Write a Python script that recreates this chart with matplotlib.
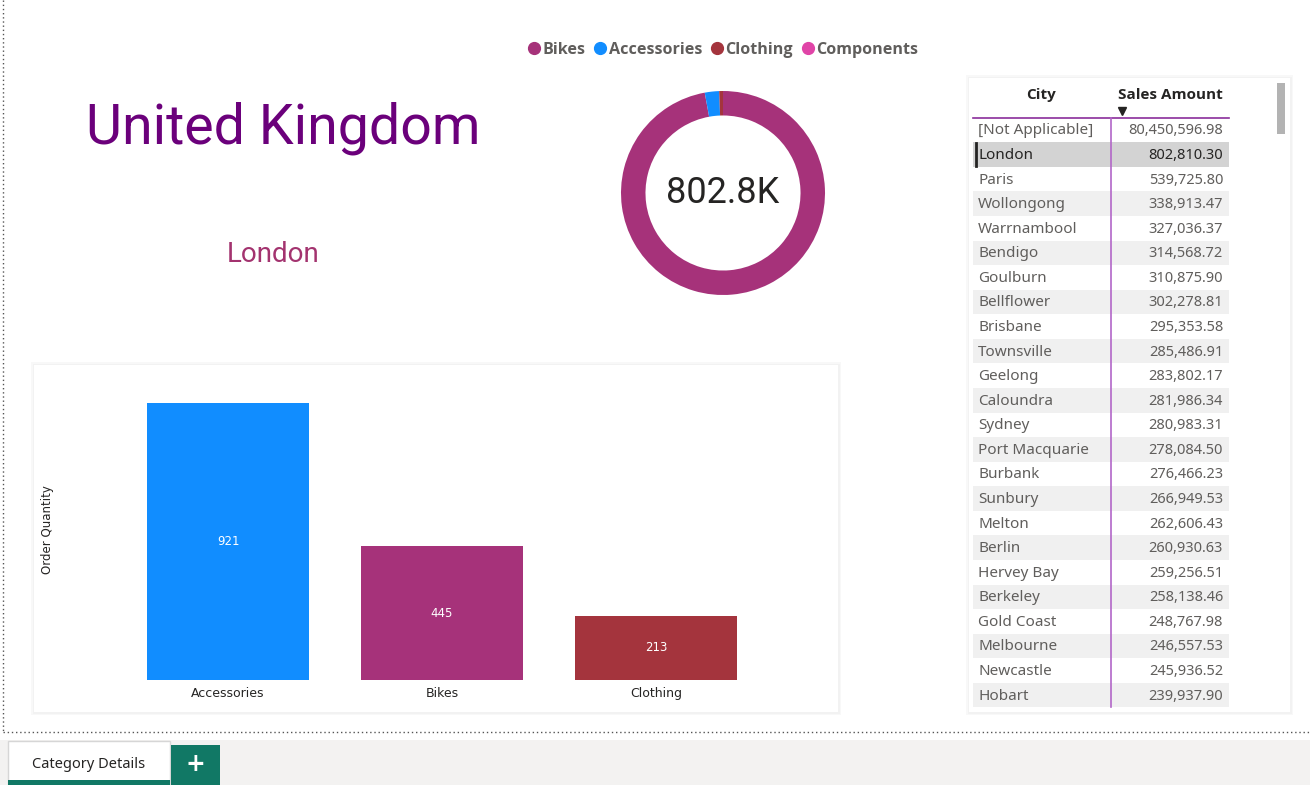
import matplotlib.pyplot as plt
from matplotlib.patches import Rectangle
from matplotlib.lines import Line2D

# data
country = 'United Kingdom'
city = 'London'
total_label = '802.8K'

legend_cats = ['Bikes', 'Accessories', 'Clothing', 'Components']
legend_colors = ['#A6327A', '#118DFF', '#A4343D', '#E044A7']
col = dict(zip(legend_cats, legend_colors))

donut_cats = ['Bikes', 'Accessories', 'Clothing']
donut_sales = [779800, 18200, 4810]

bar_cats = ['Accessories', 'Bikes', 'Clothing']
order_qty = [921, 445, 213]

cities = ['[Not Applicable]', 'London', 'Paris', 'Wollongong', 'Warrnambool',
          'Bendigo', 'Goulburn', 'Bellflower', 'Brisbane', 'Townsville',
          'Geelong', 'Caloundra', 'Sydney', 'Port Macquarie', 'Burbank',
          'Sunbury', 'Melton', 'Berlin', 'Hervey Bay', 'Berkeley',
          'Gold Coast', 'Melbourne', 'Newcastle', 'Hobart']
sales_amount = [80450596.98, 802810.30, 539725.80, 338913.47, 327036.37,
                314568.72, 310875.90, 302278.81, 295353.58, 285486.91,
                283802.17, 281986.34, 280983.31, 278084.50, 276466.23,
                266949.53, 262606.43, 260930.63, 259256.51, 258138.46,
                248767.98, 246557.53, 245936.52, 239937.90]

W, H = 1310, 785
fig = plt.figure(figsize=(W / 100, H / 100), dpi=100)
fig.patch.set_facecolor('white')

BOLD = ['Open Sans', 'DejaVu Sans']

def px_axes(x0, y0, x1, y1):
    # axes placed with pixel coordinates (top-left origin)
    return fig.add_axes([x0 / W, 1 - y1 / H, (x1 - x0) / W, (y1 - y0) / H])

# overlay in pixel units
ov = fig.add_axes([0, 0, 1, 1])
ov.set_xlim(0, W)
ov.set_ylim(H, 0)
ov.axis('off')

# page border and tab bar
ov.plot([3, 3], [0, 732], color='#555555', lw=1, ls=(0, (1, 2)))
ov.plot([3, W], [732, 732], color='#555555', lw=1, ls=(0, (1, 2)))
ov.add_patch(Rectangle((0, 740), W, 45, color='#f3f2f1', lw=0))
ov.add_patch(Rectangle((8, 741), 162, 44, facecolor='white', edgecolor='#d6d6d6', lw=1))
ov.add_patch(Rectangle((8, 780), 162, 5, color='#117865', lw=0))
ov.text(89, 764, 'Category Details', ha='center', va='center', fontsize=10.5,
        family='Noto Sans', color='#252423')
ov.add_patch(Rectangle((171, 745), 49, 40, color='#117865', lw=0))
ov.text(195.5, 764, '+', ha='center', va='center', fontsize=17, fontweight='bold',
        color='white', family='DejaVu Sans')

# titles
ov.text(283, 128, country, ha='center', va='center', fontsize=40,
        family='Roboto', color='#6B007B')
ov.text(273, 255, city, ha='center', va='center', fontsize=20,
        family='Roboto', color='#A3336F')

# legend
handles = [Line2D([], [], marker='o', ls='', markersize=8.5, color=c) for c in legend_colors]
leg = fig.legend(handles, legend_cats, loc='center', bbox_to_anchor=(722 / W, 1 - 50 / H),
                 ncol=4, frameon=False, handletextpad=0.05, columnspacing=0.4,
                 handlelength=1.0, prop={'family': BOLD, 'weight': 'bold', 'size': 11.6})
for t in leg.get_texts():
    t.set_color('#605e5c')

# card backgrounds (bar chart and table)
for (x0, y0, x1, y1) in [(34, 365, 838, 712), (969, 78, 1290, 712)]:
    ov.add_patch(Rectangle((x0 - 3, y0 - 3), x1 - x0 + 6, y1 - y0 + 6, color='#f8f8f8', lw=0))
    ov.add_patch(Rectangle((x0 - 1.5, y0 - 1.5), x1 - x0 + 3, y1 - y0 + 3, color='#f2f2f2', lw=0))
    ov.add_patch(Rectangle((x0, y0), x1 - x0, y1 - y0, color='white', lw=0))

# table
row0, row_h = 130, 24.57
ov.text(1041, 95, 'City', ha='center', va='center', fontsize=11, fontweight='bold',
        family=BOLD, color='#252423')
ov.text(1170, 95, 'Sales Amount', ha='center', va='center', fontsize=11, fontweight='bold',
        family=BOLD, color='#252423')
ov.plot([1122], [111], marker='v', markersize=5.5, color='#252423')
for i, (c, v) in enumerate(zip(cities, sales_amount)):
    y = row0 + i * row_h
    if c == city:
        ov.add_patch(Rectangle((973, y - row_h / 2), 256, row_h, color='#d3d3d3', lw=0))
        ov.plot([975.5, 975.5], [y - row_h / 2 + 1, y + row_h / 2 - 1], color='#252423', lw=2)
        tc = '#252423'
    else:
        if i % 2 == 1:
            ov.add_patch(Rectangle((973, y - row_h / 2), 256, row_h, color='#f0f0f0', lw=0))
        tc = '#605e5c'
    ov.text(978, y + 1, c, ha='left', va='center', fontsize=11, family='Noto Sans', color=tc)
    ov.text(1223, y + 1, f'{v:,.2f}', ha='right', va='center', fontsize=10.5,
            family='Noto Sans', color=tc)
ov.plot([973, 1229], [117.5, 117.5], color='#8a2d9b', lw=1.2)
ov.plot([1110.5, 1110.5], [117.5, 707], color='#b266c8', lw=1.2)
ov.add_patch(Rectangle((1277, 83), 8, 51, color='#b3b3b3', lw=0))

# donut
dax = px_axes(621, 91, 825, 295)
dax.pie(donut_sales, colors=[col[c] for c in donut_cats], startangle=90, counterclock=False,
        wedgeprops=dict(width=0.24, linewidth=0))
dax.set_xlim(-1, 1)
dax.set_ylim(-1, 1)
dax.set_aspect('equal')
dax.text(0, 0, total_label, ha='center', va='center', fontsize=26, family='Roboto',
         color='#252423')

# bar chart
bax = px_axes(121, 385, 763, 680)
bars = bax.bar(range(len(bar_cats)), order_qty, width=0.757,
               color=[col[c] for c in bar_cats])
for b, q in zip(bars, order_qty):
    bax.text(b.get_x() + b.get_width() / 2, q / 2, str(q), ha='center', va='center',
             fontsize=8.5, color='white', family='DejaVu Sans')
bax.set_xlim(-0.5, len(bar_cats) - 0.5)
bax.set_ylim(0, 981)
bax.set_xticks(range(len(bar_cats)))
bax.set_xticklabels(bar_cats, fontsize=9, family='DejaVu Sans', color='#252423')
bax.tick_params(axis='x', length=0, pad=5)
bax.set_yticks([])
for s in bax.spines.values():
    s.set_visible(False)
bax.patch.set_alpha(0)
fig.text(47 / W, 1 - 530 / H, 'Order Quantity', rotation=90, ha='center', va='center',
         fontsize=8.5, family='DejaVu Sans', color='#252423')

fig.savefig('out.png', dpi=100)
